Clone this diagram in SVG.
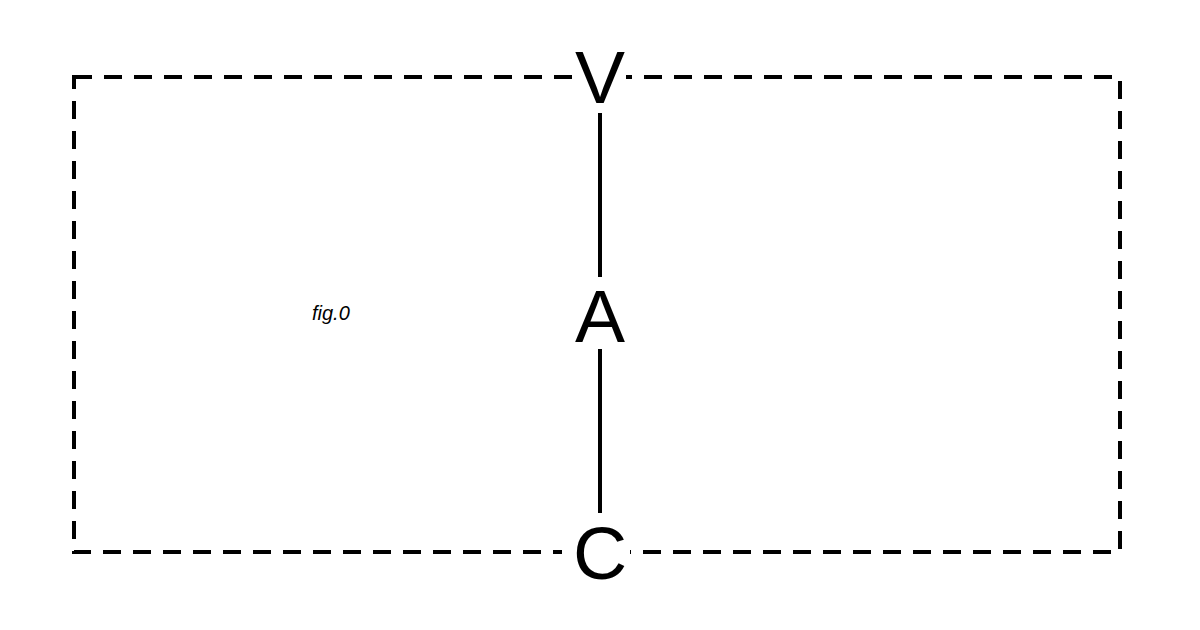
<svg xmlns="http://www.w3.org/2000/svg" width="1200" height="630" viewBox="0 0 1200 630">
<style>
.frame{fill:none;stroke:#000;stroke-width:4;stroke-dasharray:18 12}
.edge{stroke:#000;stroke-width:4;fill:none}
.bg{fill:#fff}
.lbl{font-family:"Liberation Sans",Arial,sans-serif;font-size:75px;fill:#000;text-anchor:middle}
.cap{font-family:"Liberation Sans",Arial,sans-serif;font-size:20px;font-style:italic;fill:#000}
</style>
<rect width="1200" height="630" fill="#fff"/>
<rect class="frame" x="74" y="77" width="1046" height="475"/>
<text class="cap" x="312" y="320">fig.0</text>
<g id="connectors">
<line class="edge" x1="600" y1="113" x2="600" y2="277"/>
<line class="edge" x1="600" y1="349" x2="600" y2="513"/>
</g>
<g id="node-V">
<rect class="bg" x="573" y="41" width="53" height="72"/>
<text class="lbl" x="600" y="103">V</text>
</g>
<g id="node-A">
<rect class="bg" x="573" y="277" width="53" height="72"/>
<text class="lbl" x="600" y="342">A</text>
</g>
<g id="node-C">
<rect class="bg" x="562" y="515" width="68" height="72"/>
<text class="lbl" x="600" y="579">C</text>
</g>
</svg>
